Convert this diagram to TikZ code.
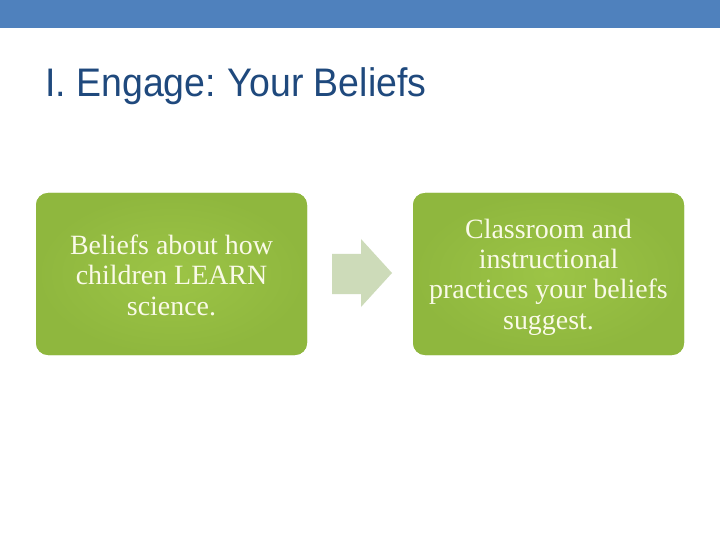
\documentclass[tikz,border=0pt]{standalone}
\usepackage{fontspec}
\setmainfont{Liberation Serif}
\newfontfamily\titlefont[FakeStretch=0.94]{Liberation Sans}
\definecolor{barblue}{RGB}{79,129,189}
\definecolor{titleblue}{RGB}{31,73,125}
\definecolor{boxgreen}{RGB}{143,183,62}
\definecolor{boxlight}{RGB}{156,196,70}
\definecolor{arrowgray}{RGB}{205,219,185}
\definecolor{cream}{RGB}{250,250,232}
\tikzset{
  greenbox/.style={rounded corners=12bp, fill=boxgreen, inner color=boxlight, outer color=boxgreen},
  boxtext/.style={text=cream, align=center, font=\fontsize{28}{30.5}\selectfont, inner sep=0pt},
}
\begin{document}
\begin{tikzpicture}[x=1bp,y=-1bp]
\useasboundingbox (0,0) rectangle (720,540);
\fill[white] (0,0) rectangle (720,540);
\fill[barblue] (0,0) rectangle (720,28);
\node[anchor=base west, inner sep=0pt, text=titleblue, font=\titlefont\fontsize{40}{44}\selectfont] (title) at (45,97) {I. Engage:\hspace{-2bp} Your Beliefs};
% boxes
\shade[greenbox] (36,193) rectangle (307,355);
\node[boxtext] (left) at (171.5,275) {Beliefs about how\\children LEARN\\science.};
\shade[greenbox] (413,193) rectangle (684,355);
\node[boxtext] (right) at (548.5,277) {Classroom and\\instructional\\practices your beliefs\\suggest.};
% arrow
\fill[arrowgray] (332,254) -- (361,254) -- (361,239) -- (392,273) -- (361,307) -- (361,294) -- (332,294) -- cycle;
\end{tikzpicture}
\end{document}
